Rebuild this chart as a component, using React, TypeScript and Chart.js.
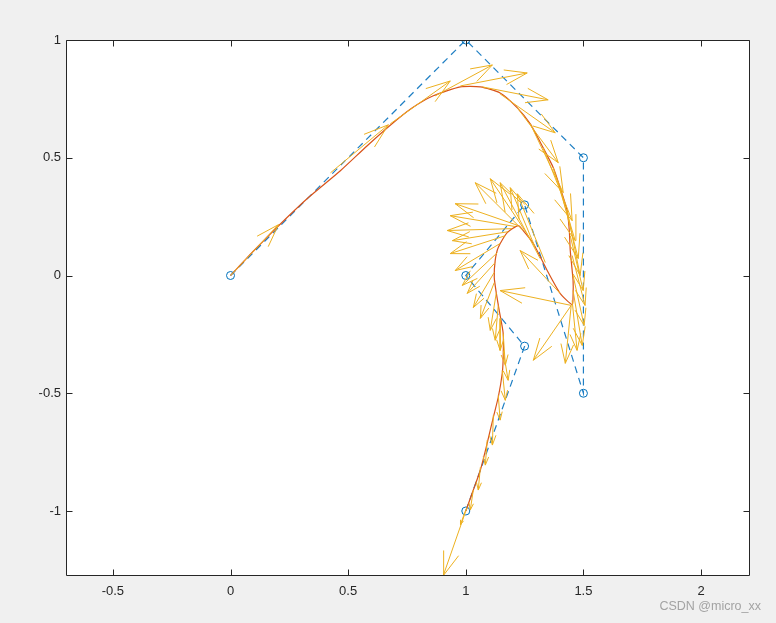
import React, { useEffect, useRef } from "react";
import { Chart, registerables } from "chart.js";

Chart.register(...registerables);

// Control polygon
const controlX = [0, 1, 1.5, 1.5, 1.25, 1, 1.25, 1];
const controlY = [0, 1, 0.5, -0.5, 0.3, 0, -0.3, -1];

// Curve samples
const curveX = [0, 0.1, 0.2, 0.33, 0.467, 0.58, 0.679, 0.77, 0.862, 0.977, 1.062, 1.146, 1.219, 1.274, 1.329, 1.372, 1.401, 1.431, 1.44, 1.444, 1.456, 1.456, 1.452, 1.401, 1.346, 1.287, 1.244, 1.223, 1.176, 1.138, 1.125, 1.121, 1.13, 1.142, 1.159, 1.159, 1.155, 1.138, 1.117, 1.091, 1.062, 1.032, 1.0];
const curveY = [0, 0.106, 0.207, 0.33, 0.445, 0.55, 0.638, 0.71, 0.763, 0.801, 0.801, 0.775, 0.712, 0.644, 0.542, 0.458, 0.373, 0.275, 0.19, 0.106, -0.021, -0.08, -0.123, -0.076, 0.021, 0.136, 0.191, 0.212, 0.182, 0.119, 0.064, -0.008, -0.076, -0.148, -0.246, -0.347, -0.415, -0.517, -0.602, -0.712, -0.826, -0.911, -1.0];

// Quiver arrows: base (arrowX, arrowY) and components (arrowU, arrowV)
const arrowX = [0, 0.425, 0.679, 0.87, 0.977, 1.07, 1.146, 1.219, 1.274, 1.329, 1.372, 1.401, 1.431, 1.444, 1.452, 1.456, 1.456, 1.452, 1.448, 1.448, 1.448, 1.401, 1.338, 1.316, 1.295, 1.274, 1.244, 1.223, 1.21, 1.197, 1.18, 1.168, 1.146, 1.134, 1.125, 1.121, 1.121, 1.13, 1.138, 1.146, 1.159, 1.159, 1.155, 1.138, 1.117, 1.091, 1.062, 1.032, 0.998, 1.006];
const arrowY = [0, 0.436, 0.644, 0.763, 0.805, 0.801, 0.771, 0.712, 0.644, 0.542, 0.458, 0.373, 0.275, 0.169, 0.085, 0, -0.064, -0.106, -0.127, -0.127, -0.127, -0.076, 0.055, 0.072, 0.119, 0.157, 0.191, 0.212, 0.208, 0.199, 0.186, 0.169, 0.136, 0.097, 0.055, 0.013, -0.03, -0.072, -0.127, -0.182, -0.246, -0.318, -0.403, -0.508, -0.593, -0.699, -0.814, -0.911, -1.0, -0.983];
const arrowU = [0.204, 0.246, 0.255, 0.243, 0.284, 0.28, 0.234, 0.174, 0.14, 0.123, 0.093, 0.077, 0.055, 0.055, 0.055, 0.047, 0.039, 0.021, -0.025, -0.161, -0.302, -0.17, -0.119, -0.17, -0.106, -0.17, -0.204, -0.268, -0.276, -0.276, -0.237, -0.234, -0.191, -0.149, -0.119, -0.089, -0.059, -0.026, -0.013, 0, 0.009, 0.021, 0.013, 0.008, -0.004, -0.008, -0.009, -0.013, -0.021, -0.102];
const arrowV = [0.216, 0.204, 0.182, 0.131, 0.055, -0.055, -0.165, -0.233, -0.292, -0.309, -0.31, -0.301, -0.275, -0.233, -0.212, -0.212, -0.233, -0.212, -0.246, -0.233, 0.063, 0.182, 0.292, 0.322, 0.254, 0.254, 0.203, 0.093, 0.046, -0.008, -0.038, -0.076, -0.115, -0.139, -0.131, -0.149, -0.152, -0.161, -0.148, -0.136, -0.135, -0.127, -0.127, -0.106, -0.127, -0.106, -0.097, -0.085, -0.059, -0.292];

const xTicks = [-0.5, 0, 0.5, 1, 1.5, 2];
const yTicks = [-1, -0.5, 0, 0.5, 1];
const xRange = [-0.695, 2.208];
const yRange = [-1.276, 1];

const FONT = "Arial, 'Liberation Sans', Helvetica, sans-serif";
const AXIS_COLOR = "#262626";

function buildArrows() {
  const pts: { x: number; y: number }[] = [];
  const alpha = 0.33;
  const beta = 0.33;
  const gap = { x: NaN, y: NaN };
  for (let i = 0; i < arrowX.length; i++) {
    const x = arrowX[i];
    const y = arrowY[i];
    const u = arrowU[i];
    const v = arrowV[i];
    const tx = x + u;
    const ty = y + v;
    const h1x = tx - alpha * (u + beta * v);
    const h1y = ty - alpha * (v - beta * u);
    const h2x = tx - alpha * (u - beta * v);
    const h2y = ty - alpha * (v + beta * u);
    pts.push({ x, y }, { x: tx, y: ty }, { x: h1x, y: h1y }, gap, { x: tx, y: ty }, { x: h2x, y: h2y }, gap);
  }
  return pts;
}

const framePlugin = {
  id: "matlabFrame",
  beforeDraw(chart: any) {
    const { ctx, chartArea: a, width, height } = chart;
    ctx.save();
    ctx.fillStyle = "#f0f0f0";
    ctx.fillRect(0, 0, width, height);
    ctx.fillStyle = "#ffffff";
    ctx.fillRect(a.left, a.top, a.right - a.left, a.bottom - a.top);
    ctx.restore();
  },
  afterDraw(chart: any) {
    const { ctx, chartArea: a, scales } = chart;
    const L = Math.round(a.left) - 0.5;
    const R = Math.round(a.right) - 0.5;
    const T = Math.round(a.top) + 0.5;
    const B = Math.round(a.bottom) - 0.5;
    ctx.save();
    ctx.strokeStyle = AXIS_COLOR;
    ctx.lineWidth = 1;
    ctx.beginPath();
    ctx.rect(L, T, R - L, B - T);
    const tl = 6;
    for (const v of xTicks) {
      const px = Math.round(scales.x.getPixelForValue(v)) + 0.5;
      ctx.moveTo(px, B);
      ctx.lineTo(px, B - tl);
      ctx.moveTo(px, T);
      ctx.lineTo(px, T + tl);
    }
    for (const v of yTicks) {
      const py = Math.round(scales.y.getPixelForValue(v)) + 0.5;
      ctx.moveTo(L, py);
      ctx.lineTo(L + tl, py);
      ctx.moveTo(R, py);
      ctx.lineTo(R - tl, py);
    }
    ctx.stroke();
    ctx.restore();
  },
};

export default function App() {
  const ref = useRef<HTMLCanvasElement | null>(null);

  useEffect(() => {
    if (!ref.current) return;
    const controlPts = controlX.map((x, i) => ({ x, y: controlY[i] }));
    const curvePts = curveX.map((x, i) => ({ x, y: curveY[i] }));
    const chart = new Chart(ref.current, {
      type: "scatter",
      data: {
        datasets: [
          {
            label: "arrows",
            data: buildArrows(),
            showLine: true,
            borderColor: "#EDB120",
            borderWidth: 1,
            pointRadius: 0,
            tension: 0,
            spanGaps: false,
            order: 1,
          } as any,
          {
            label: "curve",
            data: curvePts,
            showLine: true,
            borderColor: "#D95319",
            borderWidth: 1.2,
            pointRadius: 0,
            tension: 0.2,
            order: 2,
          } as any,
          {
            label: "control",
            data: controlPts,
            showLine: true,
            borderColor: "#1f7fc4",
            borderWidth: 1.2,
            borderDash: [7, 5],
            pointRadius: 4,
            pointBackgroundColor: "rgba(0,0,0,0)",
            pointBorderColor: "#0072BD",
            pointBorderWidth: 1,
            tension: 0,
            order: 3,
          } as any,
        ],
      },
      options: {
        responsive: false,
        animation: false,
        events: [],
        layout: { padding: { top: 40, right: 26, left: 0, bottom: 0 } },
        plugins: { legend: { display: false }, tooltip: { enabled: false } },
        scales: {
          x: {
            type: "linear",
            min: xRange[0],
            max: xRange[1],
            grid: { display: false, drawTicks: false },
            border: { display: false },
            ticks: {
              padding: 8,
              color: AXIS_COLOR,
              font: { family: FONT, size: 13 },
              autoSkip: false,
              maxRotation: 0,
              callback: (v: any) => String(v),
            },
            afterBuildTicks: (s: any) => {
              s.ticks = xTicks.map((v) => ({ value: v }));
            },
            afterFit: (s: any) => {
              s.height = 47;
            },
          },
          y: {
            type: "linear",
            min: yRange[0],
            max: yRange[1],
            grid: { display: false, drawTicks: false },
            border: { display: false },
            ticks: {
              padding: 6,
              color: AXIS_COLOR,
              font: { family: FONT, size: 13 },
              autoSkip: false,
              callback: (v: any) => String(v),
            },
            afterBuildTicks: (s: any) => {
              s.ticks = yTicks.map((v) => ({ value: v }));
            },
            afterFit: (s: any) => {
              s.width = 67;
            },
          },
        },
      } as any,
      plugins: [framePlugin],
    });
    return () => chart.destroy();
  }, []);

  return (
    <div style={{ position: "fixed", left: 0, top: 0, width: 776, height: 623, background: "#f0f0f0" }}>
      <canvas ref={ref} width={776} height={623} style={{ display: "block" }} />
      <div
        style={{
          position: "absolute",
          right: 15,
          top: 599,
          fontFamily: FONT,
          fontSize: 12.5,
          color: "#a3a3a3",
          whiteSpace: "nowrap",
        }}
      >
        CSDN @micro_xx
      </div>
    </div>
  );
}
